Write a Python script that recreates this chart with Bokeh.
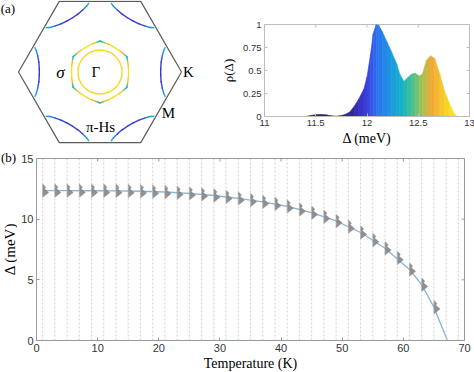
import numpy as np
from bokeh.plotting import figure
from bokeh.layouts import column, row
from bokeh.models import Range1d, Span, FixedTicker
from bokeh.core.properties import value
from bokeh.embed import file_html
from bokeh.resources import INLINE

# ---------------- data ----------------
# (a) right: gap distribution rho(Delta)
rho_delta = [11.40, 11.45, 11.50, 11.55, 11.60, 11.65, 11.70, 11.75, 11.78, 11.83,
             11.875, 11.92, 11.97, 12.00, 12.035, 12.06, 12.09, 12.115, 12.15, 12.195,
             12.24, 12.29, 12.32, 12.36, 12.395, 12.435, 12.47, 12.51, 12.54, 12.58,
             12.62, 12.66, 12.71, 12.755, 12.805, 12.85, 12.885]
rho_vals = [0.0, 0.01, 0.02, 0.022, 0.018, 0.008, 0.003, 0.01, 0.02, 0.047,
            0.11, 0.19, 0.30, 0.43, 0.68, 0.90, 1.0, 0.99, 0.92, 0.81,
            0.70, 0.57, 0.46, 0.38, 0.42, 0.46, 0.47, 0.44, 0.46, 0.61,
            0.66, 0.63, 0.46, 0.28, 0.14, 0.03, 0.0]
rho_xticks = [11, 11.5, 12, 12.5, 13]
rho_xlabels = ["11", "11.5", "12", "12.5", "13"]
rho_yticks = [0, 0.25, 0.5, 0.75, 1]
rho_ylabels = ["0", "0.25", "0.5", "0.75", "1"]

# (a) left: Fermi surface, gap values (meV) along contours
k_dirs = [0, 60, 120, 180, 240, 300]            # Gamma-K directions (deg)
gamma_radius = 0.27
gamma_gap = 12.8
sig_off = [0, 12, 22, 27, 30, 33, 38, 48, 60]    # angle from K direction (deg)
sig_r = [0.35, 0.355, 0.365, 0.372, 0.38, 0.372, 0.365, 0.355, 0.35]
sig_g = [12.85, 12.8, 12.6, 12.4, 12.25, 12.4, 12.6, 12.8, 12.85]
pi_s = [-0.30, -0.26, -0.20, -0.12, -0.04, 0.04, 0.12, 0.20, 0.26, 0.30]
pi_d = [0.80, 0.78, 0.765, 0.75, 0.745, 0.745, 0.75, 0.765, 0.78, 0.80]
pi_g = [12.4, 12.25, 12.05, 11.98, 11.95, 11.95, 11.98, 12.05, 12.25, 12.4]

# (b) gap vs temperature
temps = [1, 3, 5, 7, 9, 11, 13, 15, 17, 19, 21, 23, 25, 27, 29, 31, 33,
         35, 37, 39, 41, 43, 45, 47, 49, 51, 53, 55, 57, 59, 61, 63, 65]
gap_mean = [12.35, 12.35, 12.35, 12.35, 12.34, 12.34, 12.33, 12.32, 12.30, 12.27,
            12.24, 12.18, 12.12, 12.04, 11.95, 11.84, 11.71, 11.58, 11.43, 11.26,
            11.05, 10.80, 10.53, 10.20, 9.85, 9.38, 8.90, 8.28, 7.60, 6.80,
            5.85, 4.60, 2.75]
fit_T = [1, 5, 9, 13, 17, 21, 25, 29, 33, 37, 41, 45, 49, 53, 57, 61, 63, 65, 67.2]
fit_D = [12.35, 12.35, 12.34, 12.33, 12.30, 12.24, 12.12, 11.95, 11.71, 11.43,
         11.05, 10.53, 9.85, 8.90, 7.60, 5.85, 4.60, 2.75, 0.0]
grid_T = list(range(1, 70, 2))
b_xticks = [0, 10, 20, 30, 40, 50, 60, 70]
b_yticks = [0, 5, 10, 15]

# colormap (gap value -> colour)
cm_pos = [11.4, 11.85, 12.0, 12.1, 12.25, 12.35, 12.45, 12.55, 12.63, 12.75, 12.9]
cm_hex = ["#2a1c7a", "#30259a", "#3b3fdc", "#2d72f0", "#1b9be0", "#12b5c2",
          "#4cc28c", "#a9c24e", "#f0a636", "#f8cb2a", "#f7f318"]


def cmap(v):
    rgb = np.array([[int(h[i:i + 2], 16) for i in (1, 3, 5)] for h in cm_hex], float)
    c = [int(round(np.interp(v, cm_pos, rgb[:, k]))) for k in range(3)]
    return "#%02x%02x%02x" % tuple(c)


SERIF = "Liberation Serif"
SANS = "Liberation Sans"
TICK_PX = 3.0


def txt(p, x, y, s, size, style="normal", align="center", base="middle", angle=0.0):
    p.text(x=[x], y=[y], text=[s], text_font=value(SERIF), text_font_size=size,
           text_font_style=style, text_align=align, text_baseline=base,
           text_color="black", angle=angle)


def bare_figure(fw, fh, xr, yr):
    f = figure(frame_width=fw, frame_height=fh, x_range=Range1d(*xr), y_range=Range1d(*yr),
               x_axis_type=None, y_axis_type=None, toolbar_location=None,
               output_backend="svg", min_border=0, title=None)
    f.xgrid.visible = False
    f.ygrid.visible = False
    f.outline_line_color = None
    return f


# ---------------- (a) left : Brillouin zone ----------------
ph = bare_figure(218, 150, (-1.221, 1.454), (-0.963, 0.877))

hx = [np.cos(np.radians(a)) for a in k_dirs] + [1.0]
hy = [np.sin(np.radians(a)) for a in k_dirs] + [0.0]
ph.line(hx, hy, line_color="#5a5a5a", line_width=1.2)

# sigma contour
sx0, sy0, sx1, sy1, sc = [], [], [], [], []
for k in k_dirs:
    for i in range(len(sig_off) - 1):
        a0 = np.radians(k + sig_off[i]); a1 = np.radians(k + sig_off[i + 1])
        sx0.append(sig_r[i] * np.cos(a0)); sy0.append(sig_r[i] * np.sin(a0))
        sx1.append(sig_r[i + 1] * np.cos(a1)); sy1.append(sig_r[i + 1] * np.sin(a1))
        sc.append(cmap(0.5 * (sig_g[i] + sig_g[i + 1])))
ph.segment(sx0, sy0, sx1, sy1, line_color=sc, line_width=1.4, line_cap="round")

# pi-Hs arcs near K
px0, py0, px1, py1, pc = [], [], [], [], []
for k in k_dirs:
    ca, sa = np.cos(np.radians(k)), np.sin(np.radians(k))
    for i in range(len(pi_s) - 1):
        px0.append(pi_d[i] * ca - pi_s[i] * sa); py0.append(pi_d[i] * sa + pi_s[i] * ca)
        px1.append(pi_d[i + 1] * ca - pi_s[i + 1] * sa)
        py1.append(pi_d[i + 1] * sa + pi_s[i + 1] * ca)
        pc.append(cmap(0.5 * (pi_g[i] + pi_g[i + 1])))
ph.segment(px0, py0, px1, py1, line_color=pc, line_width=1.4, line_cap="round")

# Gamma circle
ph.circle(x=[0], y=[0], radius=gamma_radius, fill_color=None,
          line_color=cmap(gamma_gap), line_width=1.4)

txt(ph, -1.218, 0.873, "(a)", "13px", align="left", base="top")
txt(ph, -0.485, -0.006, "σ", "17px", style="italic")
txt(ph, -0.05, 0.006, "Γ", "15px")
txt(ph, 1.086, -0.006, "K", "15px")
txt(ph, 0.84, -0.497, "M", "15px")
txt(ph, 0.006, -0.669, "π-Hs", "15px")


def style_axis(ax, col, fs):
    ax.axis_line_color = col
    ax.major_tick_line_color = col
    ax.minor_tick_line_color = None
    ax.major_tick_in = 3
    ax.major_tick_out = 0
    ax.major_label_text_font = SANS
    ax.major_label_text_font_size = fs
    ax.major_label_text_color = "#333333"
    ax.major_label_standoff = 3
    ax.axis_label_text_font = SERIF
    ax.axis_label_text_font_style = "normal"
    ax.axis_label_text_color = "black"


def opposite_ticks(p, xt, yt, xr, yr, fw, fh, col):
    # inward ticks on the top and right frame edges (MATLAB box style)
    dy = TICK_PX * (yr[1] - yr[0]) / fh
    dx = TICK_PX * (xr[1] - xr[0]) / fw
    p.segment(x0=xt, y0=[yr[1]] * len(xt), x1=xt, y1=[yr[1] - dy] * len(xt),
              line_color=col, line_width=1)
    p.segment(x0=[xr[1]] * len(yt), y0=yt, x1=[xr[1] - dx] * len(yt), y1=yt,
              line_color=col, line_width=1)


# ---------------- (a) right : rho(Delta) ----------------
GRAY_A = "#bdbdbd"
RX, RY = (11, 13), (0, 1)
RFW, RFH = 205, 92
pr = figure(frame_width=RFW, frame_height=RFH, x_range=Range1d(*RX), y_range=Range1d(*RY),
            toolbar_location=None, output_backend="svg", title=None,
            min_border_left=41, min_border_right=10, min_border_top=24, min_border_bottom=34)
pr.xgrid.visible = False
pr.ygrid.visible = False
pr.outline_line_color = GRAY_A

xs, ys, cols = [], [], []
for i in range(len(rho_delta) - 1):
    x0, x1 = rho_delta[i], rho_delta[i + 1]
    xs.append([x0, x0, x1, x1])
    ys.append([0, rho_vals[i], rho_vals[i + 1], 0])
    cols.append(cmap(0.5 * (x0 + x1)))
pr.patches(xs, ys, fill_color=cols, line_color=cols, line_width=0.6)
opposite_ticks(pr, rho_xticks, rho_yticks, RX, RY, RFW, RFH, GRAY_A)

pr.xaxis.ticker = FixedTicker(ticks=rho_xticks)
pr.yaxis.ticker = FixedTicker(ticks=rho_yticks)
pr.xaxis.major_label_overrides = dict(zip(rho_xticks, rho_xlabels))
pr.yaxis.major_label_overrides = dict(zip(rho_yticks, rho_ylabels))
style_axis(pr.xaxis[0], GRAY_A, "9.5px")
style_axis(pr.yaxis[0], GRAY_A, "9.5px")
pr.xaxis.axis_label = "Δ (meV)"
pr.yaxis.axis_label = "ρ(Δ)"
pr.xaxis.axis_label_text_font_size = "14px"
pr.yaxis.axis_label_text_font_size = "13px"
pr.xaxis.axis_label_standoff = 2
pr.yaxis.axis_label_standoff = 4

# ---------------- (b) ----------------
# narrow strip on the left holding the panel tag and the y-axis title
LW, BH = 17, 222
pl = bare_figure(LW, BH, (0, LW), (0, BH))
txt(pl, 0.5, 215.0, "(b)", "13px", align="left")
txt(pl, 9.5, 123.5, "Δ (meV)", "15px", angle=np.pi / 2)

GRAY_B = "#9a9a9a"
BX, BY = (0, 70), (0, 15)
BFW, BFH = 428, 182
pb = figure(frame_width=BFW, frame_height=BFH, x_range=Range1d(*BX), y_range=Range1d(*BY),
            toolbar_location=None, output_backend="svg", title=None,
            min_border_left=19, min_border_right=10, min_border_top=8, min_border_bottom=32)
pb.xgrid.visible = False
pb.ygrid.visible = False
pb.outline_line_color = GRAY_B

for t in grid_T:
    pb.add_layout(Span(location=t, dimension="height", line_color="#c4c4c4",
                       line_dash="2 2", line_width=0.8))

pb.line(fit_T, fit_D, line_color="#86b3d6", line_width=1.3)

mx, my = [], []
for t, d in zip(temps, gap_mean):
    mx.append([t, t + 0.5, t + 0.3, t + 1.0, t])
    my.append([d + 0.55, d + 0.3, d + 0.15, d - 0.15, d - 0.55])
pb.patches(mx, my, fill_color="#8a8a8a", line_color="#8a8a8a", line_width=0.5,
           fill_alpha=0.95)
opposite_ticks(pb, b_xticks, b_yticks, BX, BY, BFW, BFH, GRAY_B)

pb.xaxis.ticker = FixedTicker(ticks=b_xticks)
pb.yaxis.ticker = FixedTicker(ticks=b_yticks)
style_axis(pb.xaxis[0], GRAY_B, "11px")
style_axis(pb.yaxis[0], GRAY_B, "11px")
pb.xaxis.axis_label = "Temperature (K)"
pb.xaxis.axis_label_text_font_size = "14px"
pb.xaxis.axis_label_standoff = 1

layout = column(row(column(ph), pr, spacing=0),
                row(column(pl), column(pb), spacing=0), spacing=0)
open("out.html", "w").write(file_html(layout, INLINE))
